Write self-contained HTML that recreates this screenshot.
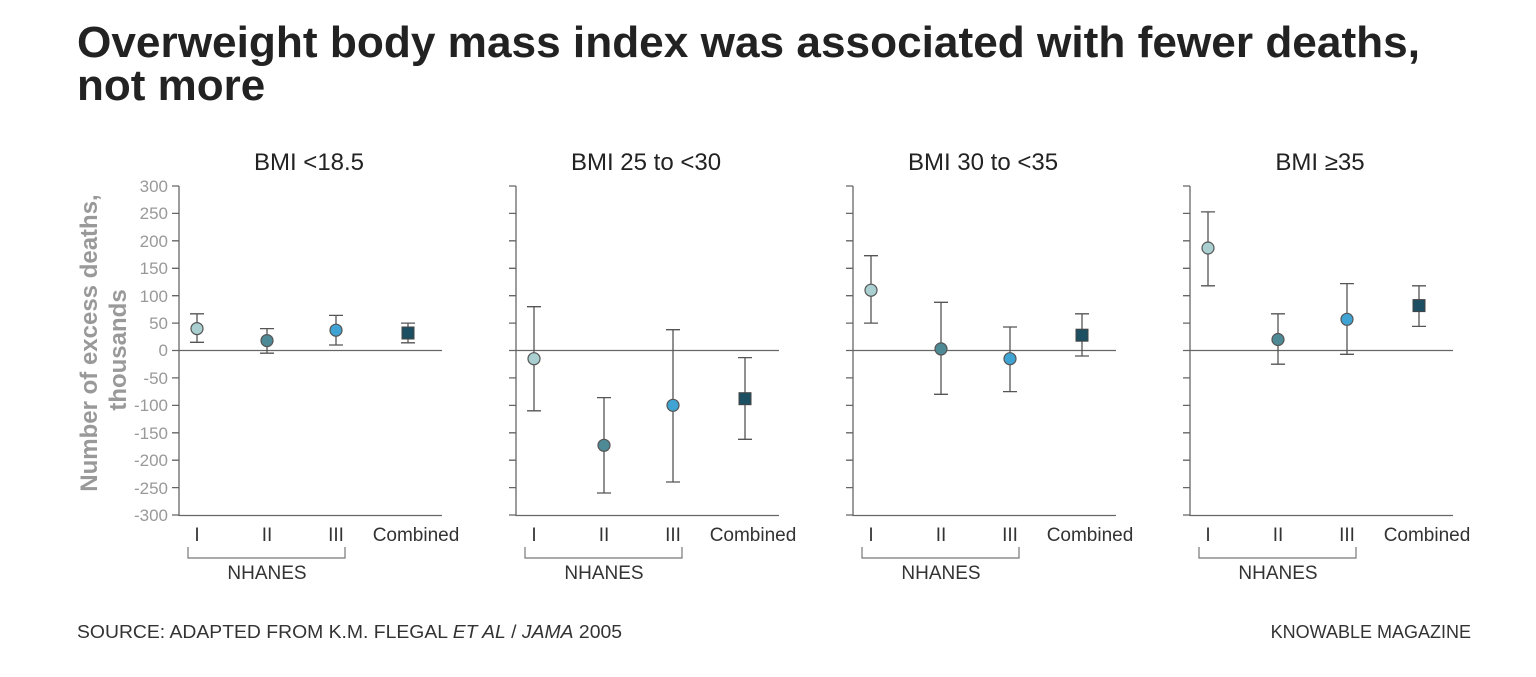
<!DOCTYPE html>
<html><head><meta charset="utf-8"><style>
body{margin:0;background:#fff;}
svg{display:block;font-family:"Liberation Sans",sans-serif;}
</style></head><body>
<svg width="1536" height="677" viewBox="0 0 1536 677" xmlns="http://www.w3.org/2000/svg">
<text x="77" y="57" font-size="44" font-weight="bold" fill="#222" textLength="1343" lengthAdjust="spacingAndGlyphs">Overweight body mass index was associated with fewer deaths,</text>
<text x="77" y="100" font-size="44" font-weight="bold" fill="#222">not more</text>
<g font-size="17" fill="#999" text-anchor="end">
<text x="168" y="192">300</text><text x="168" y="219">250</text><text x="168" y="247">200</text><text x="168" y="274">150</text><text x="168" y="302">100</text><text x="168" y="329">50</text><text x="168" y="356">0</text><text x="168" y="384">-50</text><text x="168" y="411">-100</text><text x="168" y="439">-150</text><text x="168" y="466">-200</text><text x="168" y="494">-250</text><text x="168" y="521">-300</text>
</g>
<g font-size="24" font-weight="bold" fill="#999" text-anchor="middle">
<text transform="translate(97,343) rotate(-90)">Number of excess deaths,</text>
<text transform="translate(126,350) rotate(-90)">thousands</text>
</g>

<defs>
<g id="frame">
<path d="M179 186V515.5H442M172 186h7M172 213.4h7M172 240.8h7M172 268.3h7M172 295.7h7M172 323.1h7M172 350.5h7M172 377.9h7M172 405.4h7M172 432.8h7M172 460.2h7M172 487.6h7M172 515h7M179 350.5H442" fill="none" stroke="#666" stroke-width="1.3"/>
<g font-size="19" fill="#333" text-anchor="middle">
<text x="197" y="541">I</text><text x="267" y="541">II</text><text x="336" y="541">III</text><text x="416" y="541">Combined</text>
<text x="267" y="579">NHANES</text></g>
<path d="M188 547V558H345V547" fill="none" stroke="#777" stroke-width="1.2"/>
</g>
</defs>

<g>
<use href="#frame"/>
<text x="309" y="170" font-size="24" fill="#222" text-anchor="middle">BMI &lt;18.5</text>
<path d="M197 342.3V313.8M190 342.3h14M190 313.8h14 M267 353.2V328.6M260 353.2h14M260 328.6h14 M336 345V315.4M329 345h14M329 315.4h14 M408 342.8V323.1M401 342.8h14M401 323.1h14" stroke="#555" stroke-width="1.3" fill="none"/>
<circle cx="197" cy="328.6" r="6" fill="#a9cfd1" stroke="#555" stroke-width="1.2"/>
<circle cx="267" cy="340.6" r="6" fill="#4e8a96" stroke="#555" stroke-width="1.2"/>
<circle cx="336" cy="330.2" r="6" fill="#3fa3d3" stroke="#555" stroke-width="1.2"/>
<rect x="402" y="327" width="12" height="12" fill="#1d4f63" stroke="#444"/>
</g>

<g transform="translate(337,0)">
<use href="#frame"/>
<text x="309" y="170" font-size="24" fill="#222" text-anchor="middle">BMI 25 to &lt;30</text>
<path d="M197 410.8V306.7M190 410.8h14M190 306.7h14 M267 493V397.6M260 493h14M260 397.6h14 M336 482V329.7M329 482h14M329 329.7h14 M408 439.3V357.6M401 439.3h14M401 357.6h14" stroke="#555" stroke-width="1.3" fill="none"/>
<circle cx="197" cy="358.7" r="6" fill="#a9cfd1" stroke="#555" stroke-width="1.2"/>
<circle cx="267" cy="445.3" r="6" fill="#4e8a96" stroke="#555" stroke-width="1.2"/>
<circle cx="336" cy="405.3" r="6" fill="#3fa3d3" stroke="#555" stroke-width="1.2"/>
<rect x="402" y="392.7" width="12" height="12" fill="#1d4f63" stroke="#444"/>
</g>

<g transform="translate(674,0)">
<use href="#frame"/>
<text x="309" y="170" font-size="24" fill="#222" text-anchor="middle">BMI 30 to &lt;35</text>
<path d="M197 323.1V255.7M190 323.1h14M190 255.7h14 M267 394.3V302.3M260 394.3h14M260 302.3h14 M336 391.6V327M329 391.6h14M329 327h14 M408 356V313.8M401 356h14M401 313.8h14" stroke="#555" stroke-width="1.3" fill="none"/>
<circle cx="197" cy="290.2" r="6" fill="#a9cfd1" stroke="#555" stroke-width="1.2"/>
<circle cx="267" cy="348.9" r="6" fill="#4e8a96" stroke="#555" stroke-width="1.2"/>
<circle cx="336" cy="358.7" r="6" fill="#3fa3d3" stroke="#555" stroke-width="1.2"/>
<rect x="402" y="329.2" width="12" height="12" fill="#1d4f63" stroke="#444"/>
</g>

<g transform="translate(1011,0)">
<use href="#frame"/>
<text x="309" y="170" font-size="24" fill="#222" text-anchor="middle">BMI ≥35</text>
<path d="M197 285.8V211.9M190 285.8h14M190 211.9h14 M267 364.2V313.8M260 364.2h14M260 313.8h14 M336 354.3V283.6M329 354.3h14M329 283.6h14 M408 326.4V285.8M401 326.4h14M401 285.8h14" stroke="#555" stroke-width="1.3" fill="none"/>
<circle cx="197" cy="248" r="6" fill="#a9cfd1" stroke="#555" stroke-width="1.2"/>
<circle cx="267" cy="339.5" r="6" fill="#4e8a96" stroke="#555" stroke-width="1.2"/>
<circle cx="336" cy="319.3" r="6" fill="#3fa3d3" stroke="#555" stroke-width="1.2"/>
<rect x="402" y="299.6" width="12" height="12" fill="#1d4f63" stroke="#444"/>
</g>

<text x="77" y="638" font-size="18" fill="#333" textLength="545" lengthAdjust="spacingAndGlyphs">SOURCE: ADAPTED FROM K.M. FLEGAL <tspan font-style="italic">ET AL</tspan> / <tspan font-style="italic">JAMA</tspan> 2005</text>
<text x="1471" y="638" font-size="18" fill="#333" text-anchor="end">KNOWABLE MAGAZINE</text>
</svg>
</body></html>
